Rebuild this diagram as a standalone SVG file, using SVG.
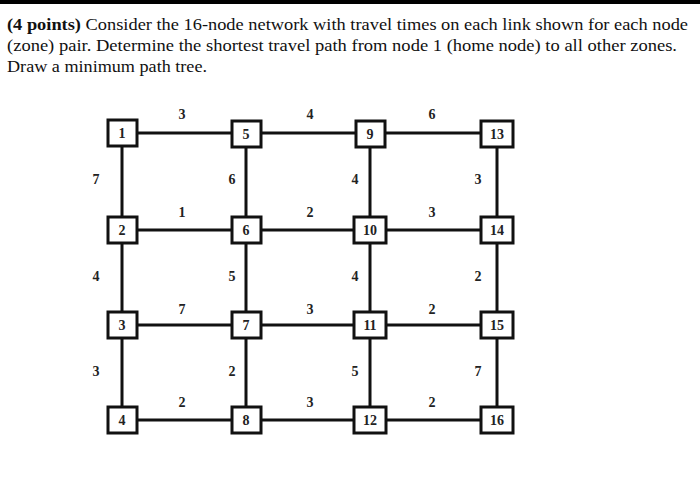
<svg xmlns="http://www.w3.org/2000/svg" width="700" height="492" viewBox="0 0 700 492">
<style>
.t{font-family:"Liberation Serif",serif;font-size:16.5px;fill:#111}
.b{font-weight:bold}
.l{font-family:"Liberation Serif",serif;font-size:14px;font-weight:bold;fill:#222;text-anchor:middle}
.n rect{fill:#fff;stroke:#111;stroke-width:3}
.n text{font-family:"Liberation Serif",serif;font-size:14px;font-weight:bold;fill:#222;text-anchor:middle}
#edges line{stroke:#111;stroke-width:3}
</style>
<rect width="700" height="492" fill="#fff"/>
<rect width="700" height="4" fill="#000"/>
<text class="t" x="7" y="30" textLength="681" lengthAdjust="spacingAndGlyphs"><tspan class="b">(4 points)</tspan> Consider the 16-node network with travel times on each link shown for each node</text>
<text class="t" x="7" y="51" textLength="670" lengthAdjust="spacingAndGlyphs">(zone) pair.  Determine the shortest travel path from node 1 (home node) to all other zones.</text>
<text class="t" x="7" y="72" textLength="200" lengthAdjust="spacingAndGlyphs">Draw a minimum path tree.</text>
<g id="edges">
<line x1="122" y1="133" x2="497" y2="133"/><line x1="122" y1="230" x2="497" y2="230"/>
<line x1="122" y1="325" x2="497" y2="325"/><line x1="122" y1="420" x2="497" y2="420"/>
<line x1="122" y1="133" x2="122" y2="420"/><line x1="246" y1="133" x2="246" y2="420"/>
<line x1="370" y1="133" x2="370" y2="420"/><line x1="497" y1="133" x2="497" y2="420"/>
</g>
<g id="labels">
<text class="l" x="182" y="119">3</text><text class="l" x="310" y="119">4</text><text class="l" x="432" y="119">6</text>
<text class="l" x="182" y="217">1</text><text class="l" x="310" y="217">2</text><text class="l" x="432" y="217">3</text>
<text class="l" x="182" y="314">7</text><text class="l" x="310" y="314">3</text><text class="l" x="432" y="314">2</text>
<text class="l" x="182" y="407">2</text><text class="l" x="310" y="407">3</text><text class="l" x="432" y="407">2</text>
<text class="l" x="96" y="184">7</text><text class="l" x="96" y="281">4</text><text class="l" x="96" y="376">3</text>
<text class="l" x="232" y="184">6</text><text class="l" x="232" y="281">5</text><text class="l" x="232" y="376">2</text>
<text class="l" x="355" y="184">4</text><text class="l" x="355" y="281">4</text><text class="l" x="355" y="376">5</text>
<text class="l" x="478" y="184">3</text><text class="l" x="478" y="281">2</text><text class="l" x="478" y="376">7</text>
</g>
<g id="n1" class="n"><rect x="108" y="120" width="29" height="26"/><text x="122" y="138">1</text></g>
<g id="n5" class="n"><rect x="232" y="121" width="29" height="26"/><text x="246" y="139">5</text></g>
<g id="n9" class="n"><rect x="356" y="121" width="29" height="26"/><text x="370" y="139">9</text></g>
<g id="n13" class="n"><rect x="481" y="121" width="32" height="26"/><text x="497" y="139">13</text></g>
<g id="n2" class="n"><rect x="108" y="217" width="29" height="26"/><text x="122" y="235">2</text></g>
<g id="n6" class="n"><rect x="232" y="217" width="29" height="26"/><text x="246" y="235">6</text></g>
<g id="n10" class="n"><rect x="354" y="217" width="32" height="26"/><text x="370" y="235">10</text></g>
<g id="n14" class="n"><rect x="481" y="217" width="32" height="26"/><text x="497" y="235">14</text></g>
<g id="n3" class="n"><rect x="108" y="312" width="29" height="26"/><text x="122" y="330">3</text></g>
<g id="n7" class="n"><rect x="232" y="312" width="29" height="26"/><text x="246" y="330">7</text></g>
<g id="n11" class="n"><rect x="354" y="312" width="32" height="26"/><text x="370" y="330">11</text></g>
<g id="n15" class="n"><rect x="481" y="312" width="32" height="26"/><text x="497" y="330">15</text></g>
<g id="n4" class="n"><rect x="108" y="407" width="29" height="26"/><text x="122" y="425">4</text></g>
<g id="n8" class="n"><rect x="232" y="407" width="29" height="26"/><text x="246" y="425">8</text></g>
<g id="n12" class="n"><rect x="354" y="407" width="32" height="26"/><text x="370" y="425">12</text></g>
<g id="n16" class="n"><rect x="481" y="407" width="32" height="26"/><text x="497" y="425">16</text></g>
</svg>
